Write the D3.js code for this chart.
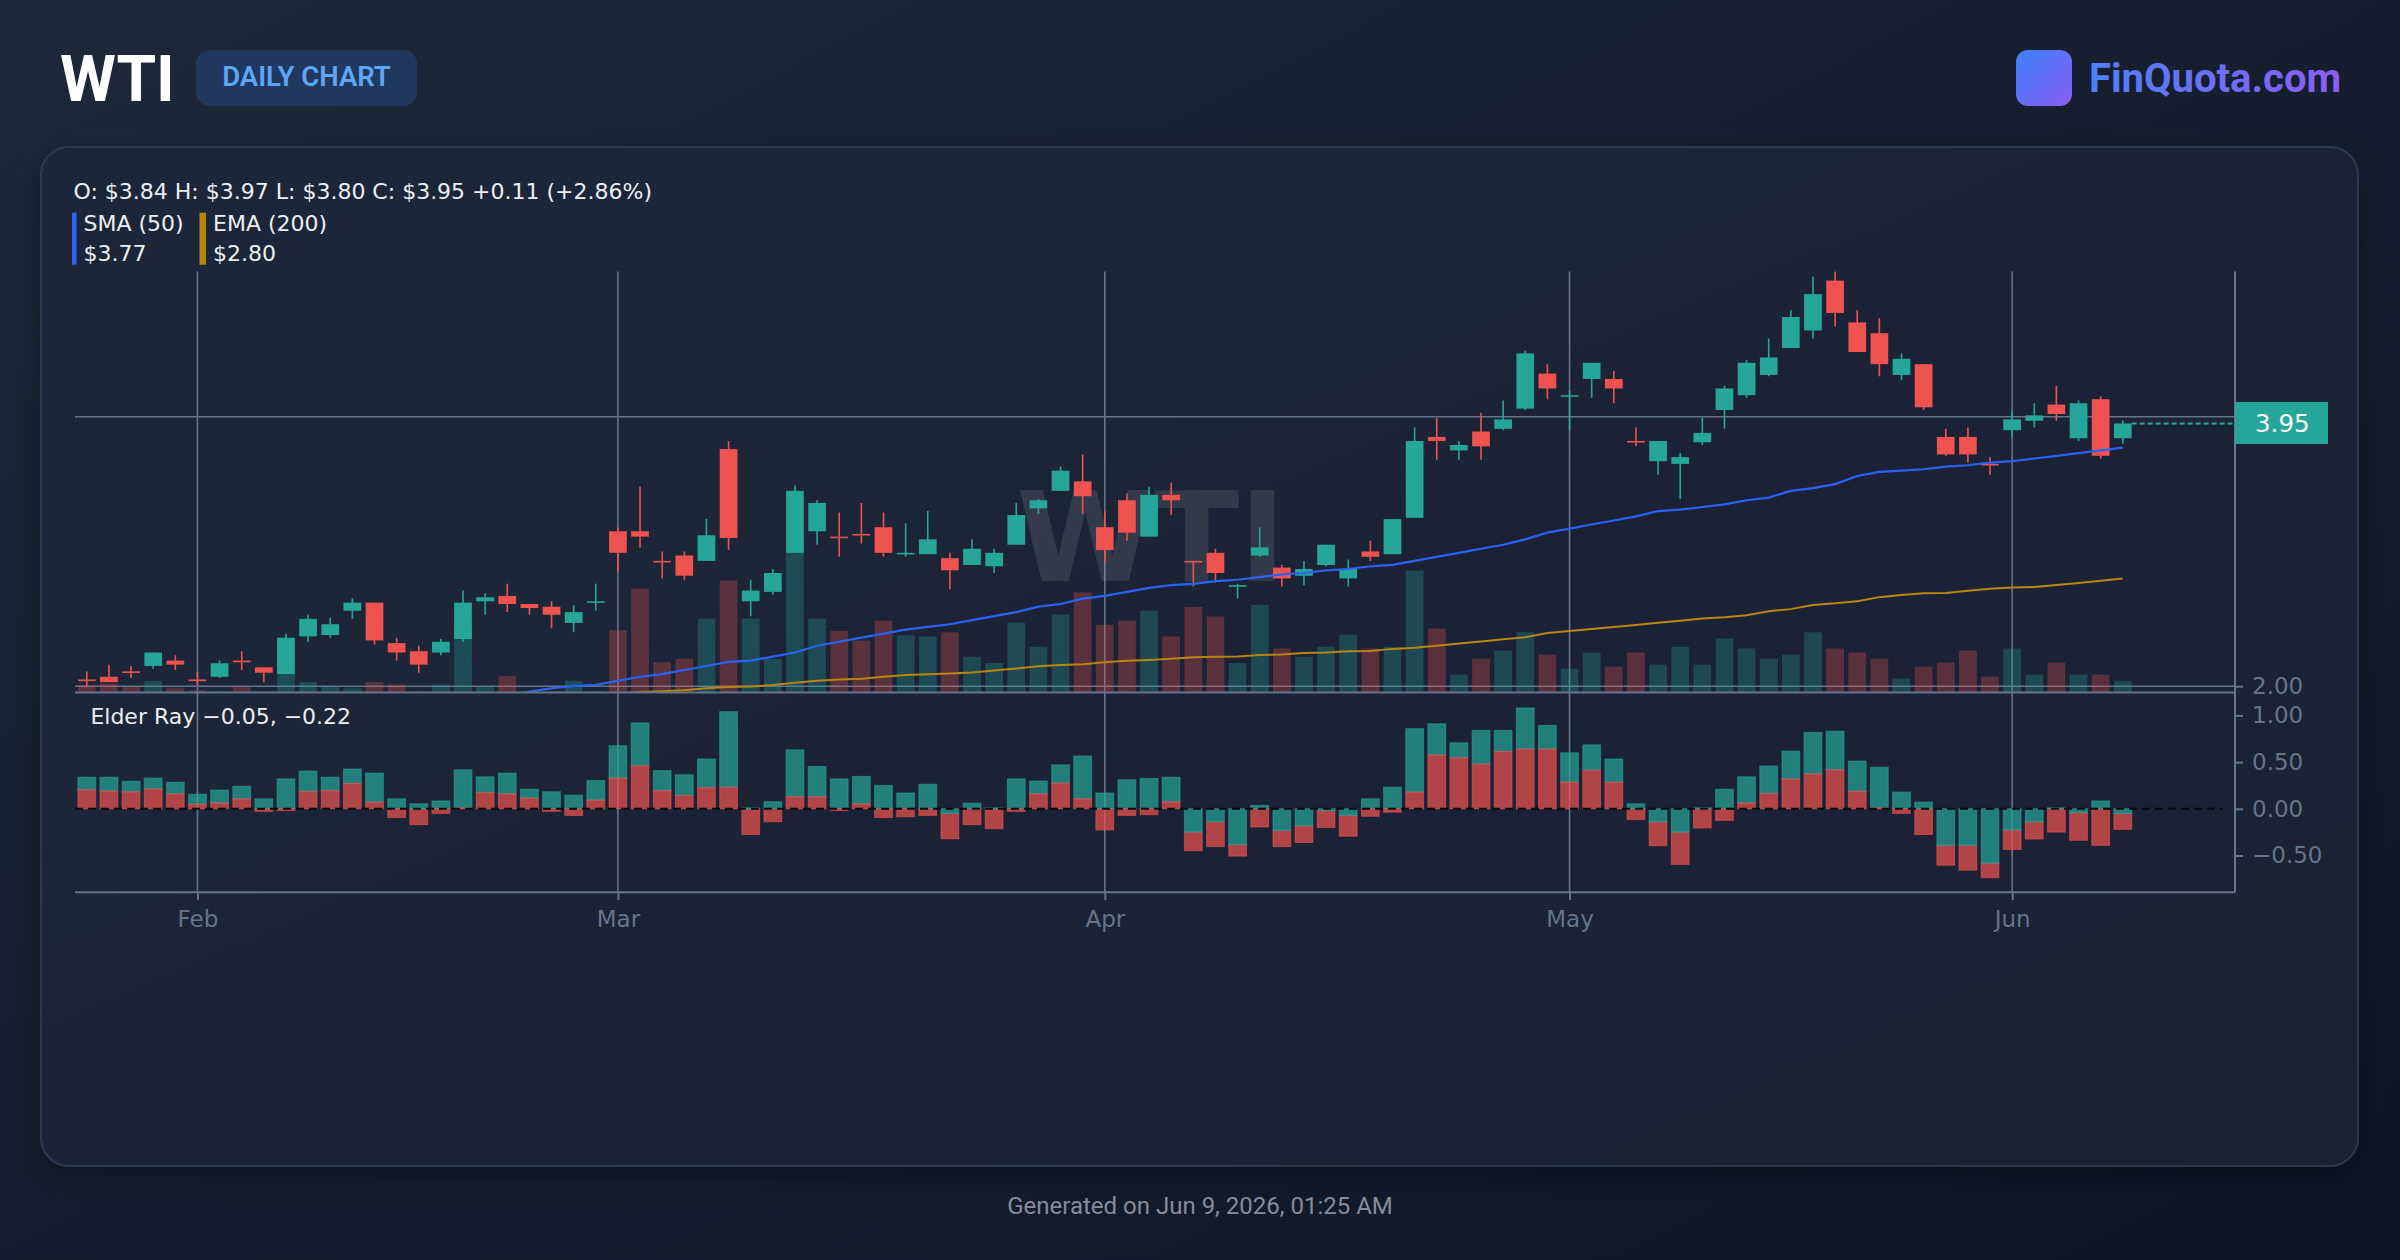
<!DOCTYPE html>
<html>
<head>
<meta charset="utf-8">
<script src="https://cdn.jsdelivr.net/npm/d3@7"></script>
<style>
  html, body { margin: 0; padding: 0; background: #0f172a; }
  svg { display: block; }
</style>
</head>
<body>
<div id="chart"></div>
<script>
// ---- data ----
const startDate = '2026-01-26'
const holidays = ['2026-02-16', '2026-04-03', '2026-05-25']

const open = [2.05,2.07,2.11,2.15,2.19,2.05,2.07,2.19,2.14,2.09,
  2.37,2.38,2.56,2.62,2.32,2.26,2.25,2.35,2.63,2.67,
  2.61,2.59,2.47,2.62,3.15,3.15,2.93,2.97,2.93,3.76,
  2.63,2.70,2.99,3.15,3.11,3.13,3.18,2.98,2.98,2.95,
  2.90,2.89,3.05,3.32,3.45,3.52,3.18,3.38,3.11,3.42,
  2.93,2.99,2.74,2.97,2.88,2.82,2.90,2.80,3.00,2.98,
  3.25,3.85,3.75,3.89,3.91,4.06,4.32,4.15,4.28,4.28,
  3.82,3.67,3.65,3.81,4.05,4.16,4.31,4.51,4.64,5.01,
  4.70,4.62,4.31,4.39,3.85,3.85,3.65,3.90,3.97,4.09,
  3.84,4.13,3.84]
const high = [2.11,2.16,2.15,2.25,2.23,2.11,2.19,2.26,2.14,2.39,
  2.53,2.51,2.65,2.62,2.36,2.30,2.35,2.71,2.69,2.76,
  2.61,2.63,2.60,2.76,3.18,3.48,3.00,3.00,3.24,3.82,
  2.79,2.87,3.49,3.38,3.29,3.36,3.29,3.21,3.30,2.99,
  3.09,3.02,3.36,3.39,3.63,3.72,3.30,3.43,3.48,3.51,
  2.93,3.02,2.76,3.18,2.90,2.93,3.05,2.94,3.08,3.24,
  3.92,3.99,3.82,4.03,4.12,4.49,4.39,4.19,4.40,4.34,
  3.92,3.82,3.73,3.99,4.23,4.42,4.58,4.79,5.04,5.08,
  4.79,4.73,4.47,4.39,3.91,3.92,3.70,4.04,4.10,4.23,
  4.12,4.15,3.97]
const low = [2.00,2.03,2.06,2.13,2.12,2.01,2.06,2.12,2.03,2.09,
  2.33,2.36,2.50,2.31,2.19,2.10,2.23,2.33,2.53,2.55,
  2.53,2.43,2.40,2.56,2.85,3.03,2.80,2.79,2.93,3.01,
  2.52,2.68,2.99,3.05,2.96,3.06,2.96,2.96,2.98,2.72,
  2.90,2.84,3.05,3.28,3.45,3.28,2.92,3.08,3.11,3.27,
  2.74,2.77,2.65,2.96,2.74,2.75,2.89,2.74,2.93,2.98,
  3.25,3.68,3.68,3.68,3.90,4.05,4.13,3.90,4.14,4.10,
  3.78,3.57,3.39,3.79,3.91,4.14,4.30,4.51,4.58,4.67,
  4.48,4.30,4.27,4.05,3.71,3.66,3.57,3.85,3.92,3.97,
  3.82,3.69,3.80]
const close = [2.045,2.03,2.10,2.25,2.16,2.045,2.17,2.18,2.10,2.36,
  2.50,2.46,2.62,2.34,2.25,2.16,2.33,2.62,2.66,2.61,
  2.58,2.53,2.55,2.63,2.99,3.11,2.92,2.82,3.12,3.10,
  2.71,2.84,3.45,3.36,3.10,3.12,2.99,2.99,3.09,2.86,
  3.02,2.99,3.27,3.38,3.60,3.41,3.01,3.14,3.42,3.38,
  2.92,2.84,2.75,3.03,2.80,2.87,3.05,2.87,2.96,3.24,
  3.82,3.82,3.79,3.78,3.98,4.47,4.21,4.16,4.40,4.21,
  3.81,3.82,3.70,3.88,4.21,4.40,4.44,4.74,4.91,4.77,
  4.48,4.39,4.43,4.07,3.72,3.72,3.64,3.98,4.01,4.02,
  4.10,3.71,3.95]
// volume in thousands of contracts
const volume = [18,21,13,28,10,5,3,13,2,53,
  25,13,10,25,19,3,19,168,13,39,
  3,3,28,3,150,250,73,81,178,270,
  178,81,371,178,148,125,173,138,135,145,
  86,71,168,110,188,241,163,173,197,135,
  206,183,71,211,106,86,110,139,106,110,
  294,154,43,81,101,145,91,57,96,62,
  96,67,110,67,130,106,81,91,145,106,
  96,81,33,62,72,101,38,106,43,72,
  43,43,28]
const sma50 = [null,null,null,null,null,null,null,null,null,null,
  null,null,null,null,null,null,null,null,null,1.93,
  1.96,1.985,2.00,2.01,2.04,2.07,2.09,2.12,2.15,2.18,
  2.19,2.22,2.25,2.30,2.33,2.36,2.39,2.42,2.44,2.46,
  2.49,2.52,2.55,2.59,2.61,2.65,2.67,2.70,2.73,2.75,
  2.76,2.78,2.79,2.81,2.83,2.84,2.86,2.87,2.89,2.90,
  2.93,2.96,2.99,3.02,3.05,3.09,3.14,3.17,3.20,3.23,
  3.26,3.30,3.31,3.33,3.35,3.38,3.40,3.45,3.47,3.50,
  3.56,3.59,3.60,3.61,3.63,3.64,3.66,3.67,3.69,3.71,
  3.73,3.75,3.77]
const ema200 = [null,null,null,null,null,null,null,null,null,null,
  null,null,null,null,null,null,null,null,null,null,
  null,null,null,null,1.945,1.957,1.963,1.97,1.985,1.994,
  1.997,2.009,2.025,2.04,2.049,2.055,2.071,2.083,2.088,2.095,
  2.102,2.117,2.132,2.148,2.157,2.163,2.178,2.188,2.194,2.203,
  2.215,2.218,2.22,2.232,2.235,2.246,2.25,2.26,2.262,2.277,
  2.286,2.301,2.317,2.332,2.348,2.363,2.394,2.409,2.425,2.44,
  2.455,2.471,2.486,2.502,2.511,2.526,2.557,2.572,2.603,2.615,
  2.631,2.661,2.677,2.689,2.692,2.708,2.723,2.732,2.737,2.751,
  2.766,2.782,2.80]
const bullPower = [0.337,0.337,0.293,0.328,0.284,0.155,0.20,0.24,0.107,0.32,
  0.404,0.337,0.426,0.382,0.107,0.053,0.084,0.417,0.342,0.382,
  0.209,0.182,0.146,0.302,0.675,0.919,0.408,0.364,0.533,1.039,
  0.01,0.075,0.63,0.453,0.32,0.346,0.249,0.169,0.262,-0.05,
  0.06,0.01,0.32,0.297,0.47,0.564,0.169,0.311,0.324,0.337,
  -0.249,-0.138,-0.382,0.036,-0.231,-0.182,-0.02,-0.07,0.107,0.231,
  0.857,0.91,0.706,0.839,0.839,1.079,0.892,0.599,0.684,0.533,
  0.053,-0.138,-0.249,0.01,0.209,0.342,0.457,0.617,0.817,0.83,
  0.51,0.444,0.178,0.071,-0.391,-0.391,-0.581,-0.226,-0.138,0.01,
  -0.04,0.084,-0.05]
const bearPower = [0.204,0.191,0.182,0.213,0.16,0.049,0.062,0.107,-0.027,-0.018,
  0.186,0.195,0.271,0.071,-0.093,-0.169,-0.049,0.009,0.173,0.16,
  0.115,-0.027,-0.071,0.093,0.328,0.462,0.195,0.142,0.226,0.231,
  -0.275,-0.138,0.129,0.129,-0.018,0.053,-0.093,-0.084,-0.071,-0.32,
  -0.169,-0.213,-0.027,0.16,0.275,0.107,-0.226,-0.071,-0.062,0.075,
  -0.448,-0.404,-0.506,-0.195,-0.404,-0.36,-0.2,-0.293,-0.08,-0.036,
  0.178,0.577,0.546,0.479,0.613,0.639,0.639,0.284,0.413,0.284,
  -0.115,-0.395,-0.595,-0.204,-0.124,0.062,0.164,0.32,0.373,0.417,
  0.186,0.009,-0.049,-0.275,-0.604,-0.657,-0.737,-0.435,-0.324,-0.249,
  -0.337,-0.391,-0.22]

const priceTicks = [2, 4]
const elderTicks = [-0.5, 0, 0.5, 1]

// trading days from the start date, skipping weekends and exchange holidays
const parseDay = d3.utcParse('%Y-%m-%d')
const dayKey = d3.utcFormat('%Y-%m-%d')
const dates = []
for (let d = parseDay(startDate); dates.length < close.length; d = d3.utcDay.offset(d, 1)) {
  const wd = d.getUTCDay()
  if (wd === 0 || wd === 6 || holidays.includes(dayKey(d))) continue
  dates.push(d)
}
const monthStarts = d3.range(1, dates.length)
  .filter(i => dates[i].getUTCMonth() !== dates[i - 1].getUTCMonth())

// ---- layout ----
const W = 2400, H = 1260
const plot = { left: 75, right: 2235 }
const main = { top: 271.6, bottom: 692.4 }
const elder = { top: 692.4, bottom: 892.2 }
const up = '#26a69a', down = '#ef5350'
const gridColor = '#64748b'
const n = close.length
const last = n - 1

const x = d3.scaleLinear().domain([-0.533, 97.07]).range([plot.left, plot.right])
const step = x(1) - x(0)
const bw = step * 0.8
const yPrice = d3.scaleLinear().domain([1.954, 5.077]).range([main.bottom, main.top])
const yVol = d3.scaleLinear().domain([0, d3.max(volume)]).range([main.bottom, main.bottom - 153.8])
const yElder = d3.scaleLinear().domain([-0.893, 1.246]).range([elder.bottom, elder.top])
const priceY = yPrice(close[last])

const svg = d3.select('#chart').append('svg')
  .attr('width', W)
  .attr('height', H)

const defs = svg.append('defs')
const bg = defs.append('linearGradient').attr('id', 'bg')
  .attr('x1', 0).attr('y1', 0).attr('x2', 1).attr('y2', 1)
bg.append('stop').attr('offset', '0%').attr('stop-color', '#1e2839')
bg.append('stop').attr('offset', '100%').attr('stop-color', '#0e1424')
const cardBg = defs.append('linearGradient').attr('id', 'cardBg')
  .attr('x1', 0).attr('y1', 0).attr('x2', 1).attr('y2', 1)
cardBg.append('stop').attr('offset', '0%').attr('stop-color', '#1e2739')
cardBg.append('stop').attr('offset', '100%').attr('stop-color', '#1a2132')
const brand = defs.append('linearGradient').attr('id', 'brand')
  .attr('x1', 0).attr('y1', 0).attr('x2', 1).attr('y2', 0)
brand.append('stop').attr('offset', '0%').attr('stop-color', '#4f80f7')
brand.append('stop').attr('offset', '100%').attr('stop-color', '#8b5cf6')
const logo = defs.append('linearGradient').attr('id', 'logo')
  .attr('x1', 0).attr('y1', 0).attr('x2', 1).attr('y2', 1)
logo.append('stop').attr('offset', '0%').attr('stop-color', '#3b82f6')
logo.append('stop').attr('offset', '100%').attr('stop-color', '#8b5cf6')
const shadow = defs.append('filter').attr('id', 'shadow')
  .attr('x', '-5%').attr('y', '-5%').attr('width', '110%').attr('height', '115%')
shadow.append('feDropShadow').attr('dx', 0).attr('dy', 10).attr('stdDeviation', 14)
  .attr('flood-color', '#000').attr('flood-opacity', 0.35)
defs.append('clipPath').attr('id', 'clipMain').append('rect')
  .attr('x', plot.left).attr('y', main.top)
  .attr('width', plot.right - plot.left).attr('height', main.bottom - main.top)

svg.append('rect').attr('width', W).attr('height', H).attr('fill', 'url(#bg)')

// ---- header ----
svg.append('text')
  .attr('x', 60).attr('y', 100.5)
  .attr('font-family', 'Roboto').attr('font-weight', 700).attr('font-size', 64)
  .attr('fill', '#ffffff')
  .text('WTI')
svg.append('rect')
  .attr('x', 196).attr('y', 50).attr('width', 221).attr('height', 56).attr('rx', 14)
  .attr('fill', '#20385e')
svg.append('text')
  .attr('x', 306.5).attr('y', 86).attr('text-anchor', 'middle')
  .attr('font-family', 'Roboto').attr('font-weight', 600).attr('font-size', 27.5)
  .attr('fill', '#5ea5f8')
  .text('DAILY CHART')
svg.append('rect')
  .attr('x', 2016).attr('y', 50).attr('width', 56).attr('height', 56).attr('rx', 12)
  .attr('fill', 'url(#logo)')
svg.append('text')
  .attr('x', 2089).attr('y', 92)
  .attr('font-family', 'Roboto').attr('font-weight', 700).attr('font-size', 40)
  .attr('fill', 'url(#brand)')
  .text('FinQuota.com')

// ---- card ----
svg.append('rect')
  .attr('x', 41).attr('y', 147).attr('width', 2317).attr('height', 1019).attr('rx', 28)
  .attr('fill', 'url(#cardBg)').attr('stroke', '#2c3749').attr('stroke-width', 2)
  .attr('filter', 'url(#shadow)')

// ---- grid ----
const grid = svg.append('g').attr('stroke', gridColor).attr('stroke-width', 1.6)
grid.selectAll('.hgrid').data(priceTicks).enter().append('line')
  .attr('x1', plot.left).attr('x2', plot.right)
  .attr('y1', d => yPrice(d)).attr('y2', d => yPrice(d))
grid.selectAll('.vgrid').data(monthStarts).enter().append('line')
  .attr('x1', d => x(d)).attr('x2', d => x(d))
  .attr('y1', main.top).attr('y2', elder.bottom)

// watermark
svg.append('text')
  .attr('x', 1151).attr('y', 581)
  .attr('text-anchor', 'middle')
  .attr('font-family', 'DejaVu Sans').attr('font-weight', 700).attr('font-size', 125)
  .attr('fill', '#ffffff').attr('fill-opacity', 0.1)
  .text('WTI')

// ---- main pane ----
const mainG = svg.append('g').attr('clip-path', 'url(#clipMain)')
const idx = d3.range(n)

mainG.append('g').selectAll('rect').data(idx).enter().append('rect')
  .attr('x', i => x(i) - bw / 2)
  .attr('width', bw)
  .attr('y', i => yVol(volume[i]))
  .attr('height', i => main.bottom - yVol(volume[i]))
  .attr('fill', i => close[i] >= open[i] ? up : down)
  .attr('fill-opacity', 0.3)

const candle = mainG.append('g').selectAll('g').data(idx).enter().append('g')
  .attr('fill', i => close[i] >= open[i] ? up : down)
  .attr('stroke', i => close[i] >= open[i] ? up : down)
candle.append('line')
  .attr('x1', i => x(i)).attr('x2', i => x(i))
  .attr('y1', i => yPrice(high[i])).attr('y2', i => yPrice(low[i]))
  .attr('stroke-width', 1.6)
candle.append('rect')
  .attr('x', i => x(i) - bw / 2)
  .attr('width', bw)
  .attr('y', i => yPrice(Math.max(open[i], close[i])))
  .attr('height', i => Math.max(1.6, Math.abs(yPrice(open[i]) - yPrice(close[i]))))
  .attr('stroke', 'none')

const maLine = d3.line()
  .defined(d => d != null)
  .x((d, i) => x(i))
  .y(d => yPrice(d))
mainG.append('path').datum(ema200)
  .attr('d', maLine).attr('fill', 'none')
  .attr('stroke', '#b8860b').attr('stroke-width', 2)
mainG.append('path').datum(sma50)
  .attr('d', maLine).attr('fill', 'none')
  .attr('stroke', '#2962ff').attr('stroke-width', 2.2)

// last price line
svg.append('line')
  .attr('x1', x(last) + bw / 2).attr('x2', plot.right)
  .attr('y1', priceY).attr('y2', priceY)
  .attr('stroke', up).attr('stroke-width', 2).attr('stroke-dasharray', '5,3')

// ---- elder ray pane ----
const elderG = svg.append('g')
const bars = []
idx.forEach(i => {
  const pair = [{ v: bullPower[i], c: up }, { v: bearPower[i], c: down }]
    .sort((p, q) => Math.abs(q.v) - Math.abs(p.v))
  const big = pair[0], small = pair[1]
  const sameSide = big.v * small.v > 0
  bars.push({ i, from: sameSide ? small.v : 0, to: big.v, c: big.c })
  bars.push({ i, from: 0, to: small.v, c: small.c })
})
elderG.selectAll('rect').data(bars).enter().append('rect')
  .attr('x', d => x(d.i) - bw / 2)
  .attr('width', bw)
  .attr('y', d => yElder(Math.max(d.from, d.to)))
  .attr('height', d => Math.abs(yElder(d.from) - yElder(d.to)))
  .attr('fill', d => d.c).attr('fill-opacity', 0.7)
  .attr('stroke', d => d.c).attr('stroke-opacity', 0.55).attr('stroke-width', 1.2)

svg.append('line')
  .attr('x1', plot.left).attr('x2', plot.right - 12)
  .attr('y1', yElder(0)).attr('y2', yElder(0))
  .attr('stroke', '#05070b').attr('stroke-width', 2).attr('stroke-dasharray', '8,5')

// ---- frame lines ----
const frame = svg.append('g').attr('stroke', gridColor).attr('stroke-width', 2)
frame.append('line')
  .attr('x1', plot.left).attr('x2', plot.right)
  .attr('y1', main.bottom).attr('y2', main.bottom)
frame.append('line')
  .attr('x1', plot.left).attr('x2', plot.right)
  .attr('y1', elder.bottom).attr('y2', elder.bottom)
frame.append('line')
  .attr('x1', plot.right).attr('x2', plot.right)
  .attr('y1', main.top).attr('y2', elder.bottom)

// ---- axes ----
function styleAxis (g) {
  g.select('.domain').remove()
  g.selectAll('.tick line').attr('stroke', gridColor).attr('stroke-width', 2)
  g.selectAll('.tick text')
    .attr('fill', gridColor)
    .attr('font-family', 'DejaVu Sans')
    .attr('font-size', 23)
}
// the price label covers any tick sitting right under it
const priceAxis = svg.append('g')
  .attr('transform', `translate(${plot.right},0)`)
  .call(d3.axisRight(yPrice).tickValues(priceTicks).tickFormat(d3.format('.2f')).tickSize(8).tickPadding(9))
  .call(styleAxis)
priceAxis.selectAll('.tick').filter(d => Math.abs(yPrice(d) - priceY) < 24).remove()
svg.append('g')
  .attr('transform', `translate(${plot.right},0)`)
  .call(d3.axisRight(yElder).tickValues(elderTicks).tickFormat(d3.format('.2f')).tickSize(8).tickPadding(9))
  .call(styleAxis)
svg.append('g')
  .attr('transform', `translate(0,${elder.bottom})`)
  .call(d3.axisBottom(x).tickValues(monthStarts).tickFormat(i => d3.utcFormat('%b')(dates[i])).tickSize(8).tickPadding(10))
  .call(styleAxis)

// last price label
svg.append('rect')
  .attr('x', plot.right).attr('y', priceY - 21.5)
  .attr('width', 93).attr('height', 42)
  .attr('fill', up)
svg.append('text')
  .attr('x', 2255).attr('y', priceY).attr('dy', '0.36em')
  .attr('font-family', 'DejaVu Sans').attr('font-size', 24.5)
  .attr('fill', '#ffffff')
  .text(close[last].toFixed(2))

// ---- legends ----
const fmt2 = d3.format('.2f')
const chg = close[last] - open[last]
const legend = svg.append('g')
  .attr('font-family', 'DejaVu Sans').attr('font-size', 22).attr('fill', '#eceff4')
legend.append('text').attr('x', 73.5).attr('y', 199.3)
  .text(`O: $${fmt2(open[last])} H: $${fmt2(high[last])} L: $${fmt2(low[last])} C: $${fmt2(close[last])} ` +
    `${chg >= 0 ? '+' : ''}${fmt2(chg)} (${chg >= 0 ? '+' : ''}${fmt2(chg / open[last] * 100)}%)`)

const maLegend = [
  { name: 'SMA (50)', value: sma50[last], color: '#2962ff', x: 72, w: 4.5 },
  { name: 'EMA (200)', value: ema200[last], color: '#b8860b', x: 199.5, w: 6.5 }
]
const lg = legend.selectAll('.ma').data(maLegend).enter().append('g')
lg.append('rect')
  .attr('x', d => d.x).attr('y', 212.7).attr('width', d => d.w).attr('height', 52)
  .attr('fill', d => d.color)
lg.append('text').attr('x', d => d.x + d.w + 7).attr('y', 230.7).text(d => d.name)
lg.append('text').attr('x', d => d.x + d.w + 7).attr('y', 260.7).text(d => '$' + fmt2(d.value))

legend.append('text').attr('x', 90.4).attr('y', 723.5)
  .text(`Elder Ray ${fmt2(bullPower[last])}, ${fmt2(bearPower[last])}`)

// ---- footer ----
svg.append('text')
  .attr('x', 1200).attr('y', 1214.3).attr('text-anchor', 'middle')
  .attr('font-family', 'Roboto').attr('font-size', 24)
  .attr('fill', '#868c97')
  .text('Generated on Jun 9, 2026, 01:25 AM')
</script>
</body>
</html>
